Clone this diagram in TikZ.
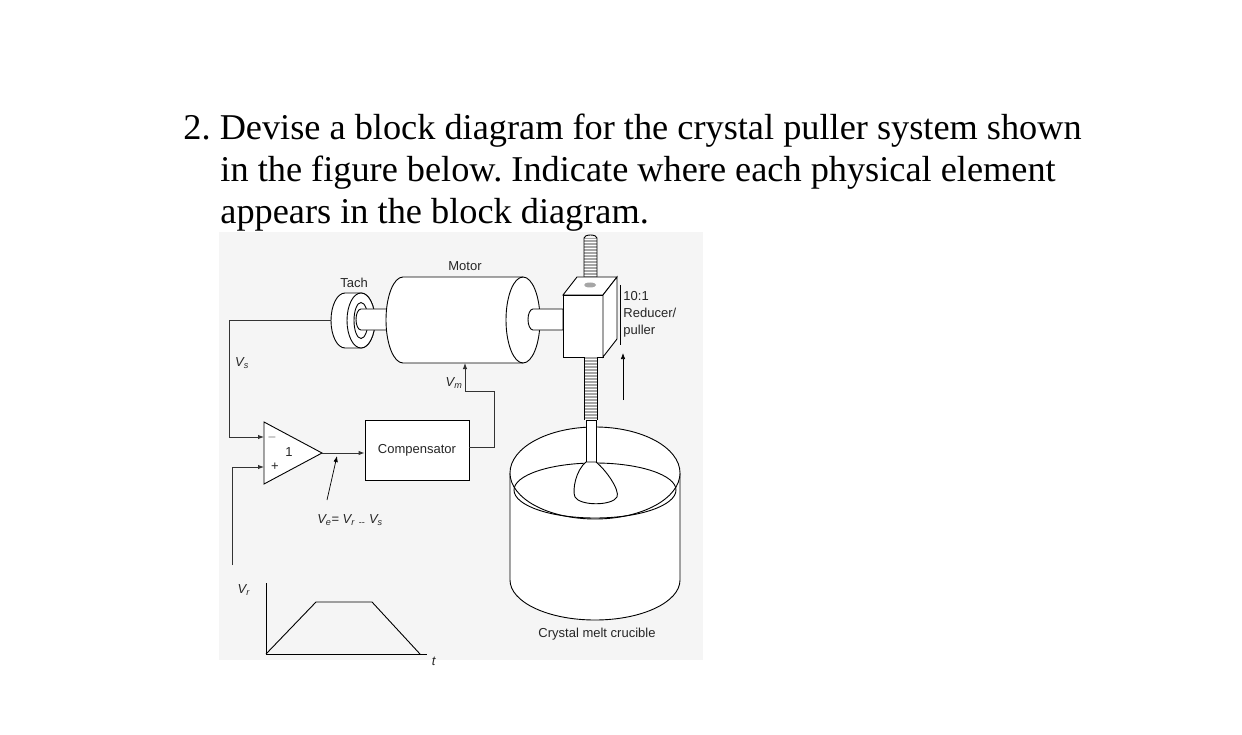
\documentclass[tikz,border=0pt]{standalone}
\usepackage{fontspec}
\setmainfont{Liberation Serif}
\newfontfamily\figfont{Liberation Sans}
\usetikzlibrary{arrows.meta}
\newcommand{\vv}[1]{\textit{V}\kern-1pt\textsubscript{\textit{#1}}}
\begin{document}
\begin{tikzpicture}[x=1pt,y=-1pt,line width=0.9pt,
  lbl/.style={font=\figfont\fontsize{13}{14}\selectfont,inner sep=0pt,text=black!85},
  wire/.style={draw=black!80},
  arr/.style={-{Latex[length=6pt,width=4.5pt]}},
  title/.style={font=\fontsize{36.3}{40}\selectfont,anchor=base west,inner sep=0pt}]
\useasboundingbox (0,0) rectangle (1242,735);
% title
\frenchspacing
\node[title] (t1) at (183,140) {2. Devise a block diagram for the crystal puller system shown};
\node[title] (t2) at (220,182) {in the figure below. Indicate where each physical element};
\node[title] (t3) at (220,224) {appears in the block diagram.};
% background
\fill[blue!3!gray!8] (219,232) rectangle (703,660);
% tach
\draw[fill=white] (345,293) -- (361,293) arc[start angle=90,end angle=-90,x radius=14pt,y radius=27.5pt] -- (345,348) arc[start angle=-90,end angle=-270,x radius=14pt,y radius=27.5pt];
\draw[fill=white] (361,320.5) ellipse[x radius=14pt,y radius=27.5pt];
\draw[fill=white] (361,320.5) ellipse[x radius=7pt,y radius=18pt];
\draw[fill=white] (361,309) -- (405,309) -- (405,330) -- (361,330) arc[start angle=-90,end angle=-270,x radius=5pt,y radius=10.5pt];
% motor
\draw[fill=white] (403,277) -- (523,277) arc[start angle=90,end angle=-90,x radius=17pt,y radius=43pt] -- (403,363) arc[start angle=-90,end angle=-270,x radius=17pt,y radius=43pt];
\draw (523,277) arc[start angle=90,end angle=270,x radius=17pt,y radius=43pt];
\draw[fill=white] (533,309) -- (563,309) -- (563,330) -- (533,330) arc[start angle=-90,end angle=-270,x radius=5pt,y radius=10.5pt];
% screw top
\fill[gray!70] (584,238) rectangle (597,285);
\foreach \yy in {239,242,...,284} \draw[line width=0.5pt,white] (584,\yy) -- (597,\yy);
\draw (584,285) -- (584,238) arc[start angle=180,end angle=0,x radius=6.5pt,y radius=3pt] -- (597,285);
% reducer box
\draw[fill=white] (563,295) rectangle (603,357);
\draw[fill=white] (563,295) -- (577,277) -- (617,277) -- (603,295) -- cycle;
\draw[fill=white] (603,295) -- (617,277) -- (617,339) -- (603,357) -- cycle;
\fill[gray!70] (590,285) ellipse[x radius=6pt,y radius=2.5pt];
\draw (620,285) -- (620,345);
\node[lbl,anchor=west] (r1) at (623,296) {10:1};
\node[lbl,anchor=west] (r2) at (623,313) {Reducer/};
\node[lbl,anchor=west] (r3) at (623,331) {puller};
\coordinate (up1) at (623,400);
\coordinate (up2) at (623,353);
\draw[arr,line width=0.7pt] (up1) -- (up2);
% lower screw
\fill[gray!70] (584,357) rectangle (597,420);
\foreach \yy in {359,362,...,419} \draw[line width=0.5pt,white] (584,\yy) -- (597,\yy);
\draw (584,357) -- (584,420) (597,357) -- (597,420);
% crucible
\draw[fill=white] (510,473) -- (510,580) arc[start angle=180,end angle=360,x radius=85pt,y radius=40pt] -- (680,473);
\draw[fill=white] (595,473) ellipse[x radius=85pt,y radius=46pt];
\draw (514,490) arc[start angle=180,end angle=360,x radius=81pt,y radius=28pt];
\draw (514,490) arc[start angle=180,end angle=0,x radius=81pt,y radius=27pt];
% rod and crystal
\draw[fill=white] (586,420) rectangle (596,462);
\draw[fill=white] (586,462) .. controls (576,470) and (572,490) .. (575,497) .. controls (580,506) and (612,506) .. (617,497) .. controls (620,490) and (606,470) .. (596,462) -- cycle;
\node[lbl] (crl) at (597,634) {Crystal melt crucible};
% labels
\node[lbl] (motor) at (465,266) {Motor};
\node[lbl] (tach) at (354,283) {Tach};
% amplifier
\draw[fill=white] (264,422) -- (322,453) -- (264,484) -- cycle;
\node[lbl] (one) at (289,452) {1};
\node[lbl] (minus) at (272,437) {$-$};
\node[lbl] (plus) at (275,467) {+};
\coordinate (ain1) at (264,437);
\coordinate (ain2) at (264,467);
\coordinate (aout) at (322,453);
% compensator
\node[draw,fill=white,minimum width=104pt,minimum height=60pt,lbl,inner sep=0pt] (comp) at (417,450) {Compensator};
\coordinate (tachout) at (331,320);
\draw[wire,arr] (tachout) -- (229,320) -- (229,437) -- (ain1);
\draw[wire,arr] (232,565) -- (232,467) -- (ain2);
\draw[wire,arr] (aout) -- (comp.west |- aout);
\coordinate (mot) at (465,363);
\draw[wire,arr] (comp.east |- 0,447) -- (494,447) -- (494,391) -- (465,391) -- (mot);
\node[lbl] (vm) at (454,383) {\vv{m}};
\node[lbl] (vs) at (242,363) {\vv{s}};
\coordinate (ve1) at (327,500);
\coordinate (ve2) at (337,456);
\draw[arr,line width=0.7pt] (ve1) -- (ve2);
\node[lbl] (ve) at (350,520) {\vv{e}= \vv{r} \textsubscript{--} \vv{s}};
% graph
\node[lbl] (vr) at (244,590) {\vv{r}};
\draw (266,583) -- (266,654) -- (427,654);
\draw (266,654) -- (316,602) -- (372,602) -- (420,654);
\node[lbl] (tt) at (434,661) {\textit{t}};
\end{tikzpicture}
\end{document}
